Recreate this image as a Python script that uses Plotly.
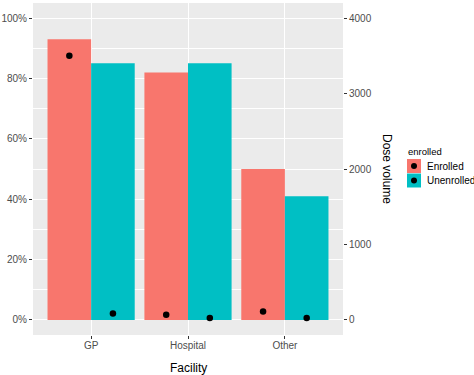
import plotly.graph_objects as go

facilities = ["GP", "Hospital", "Other"]
groups = ["Enrolled", "Unenrolled"]
pct_enrolled = [0.93, 0.82, 0.50]
pct_unenrolled = [0.85, 0.85, 0.41]
dose_enrolled = [3500, 70, 110]
dose_unenrolled = [85, 25, 25]
colors = {"Enrolled": "#F8766D", "Unenrolled": "#00BFC4"}
pct_ticks = [0, 0.2, 0.4, 0.6, 0.8, 1.0]
dose_ticks = [0, 1000, 2000, 3000, 4000]

FONT = "Liberation Sans, Arial, sans-serif"
W, H = 474, 375
L, R, T, B = 33, 131, 3, 40
PW, PH = W - L - R, H - T - B


def px(x):
    return (x - L) / PW


def py(y):
    return (H - B - y) / PH


fig = go.Figure()
for g, vals in zip(groups, [pct_enrolled, pct_unenrolled]):
    fig.add_trace(go.Bar(x=facilities, y=vals, name=g, marker_color=colors[g],
                         marker_line_width=0, offsetgroup=g, showlegend=False))
for g, vals in zip(groups, [dose_enrolled, dose_unenrolled]):
    fig.add_trace(go.Scatter(x=facilities, y=vals, mode="markers", yaxis="y2",
                             orientation="v", offsetgroup=g, showlegend=False,
                             marker=dict(color="black", size=6.5)))

shapes = []
annotations = []
# legend
annotations.append(dict(text="enrolled", x=px(406), y=py(151), xref="paper", yref="paper",
                        xanchor="left", yanchor="middle", showarrow=False,
                        font=dict(family=FONT, size=9.5, color="black")))
for i, g in enumerate(groups):
    y0 = 159 + i * 14.5
    shapes.append(dict(type="rect", xref="paper", yref="paper", x0=px(407), x1=px(421),
                       y0=py(y0), y1=py(y0 + 14), fillcolor=colors[g], line_width=0))
    cx, cy = 414, y0 + 7
    shapes.append(dict(type="circle", xref="paper", yref="paper", x0=px(cx - 3), x1=px(cx + 3),
                       y0=py(cy - 3), y1=py(cy + 3), fillcolor="black", line_width=0))
    annotations.append(dict(text=g, x=px(425), y=py(cy), xref="paper", yref="paper",
                            xanchor="left", yanchor="middle", showarrow=False,
                            font=dict(family=FONT, size=10, color="black")))
annotations.append(dict(text="Dose volume", x=px(387), y=0.5, xref="paper", yref="paper",
                        textangle=90, showarrow=False, xanchor="center", yanchor="middle",
                        font=dict(family=FONT, size=12, color="black")))
annotations.append(dict(text="Facility", x=0.5, y=py(368), xref="paper", yref="paper",
                        showarrow=False, xanchor="center", yanchor="middle",
                        font=dict(family=FONT, size=12, color="black")))

fig.update_layout(
    template="none",
    width=W, height=H, margin=dict(l=L, r=R, t=T, b=B, autoexpand=False),
    paper_bgcolor="white", plot_bgcolor="#EBEBEB",
    barmode="group", bargap=0.1, bargroupgap=0,
    scattermode="group", scattergap=0.1,
    font=dict(family=FONT),
    shapes=shapes, annotations=annotations,
    xaxis=dict(range=[-0.6, 2.6], showgrid=True, gridcolor="white", gridwidth=1.2,
               ticks="outside", ticklen=3, tickcolor="#333333", tickwidth=1,
               tickfont=dict(family=FONT, size=10, color="#4D4D4D"),
               ticklabelstandoff=-2,
               automargin=False, zeroline=False, showline=False),
    yaxis=dict(range=[-0.05, 1.05], tickvals=pct_ticks, tickformat=".0%",
               showgrid=True, gridcolor="white", gridwidth=1.2,
               minor=dict(tick0=0.1, dtick=0.2, showgrid=True, gridcolor="white", gridwidth=0.6),
               ticks="outside", ticklen=3, tickcolor="#333333", tickwidth=1,
               tickfont=dict(family=FONT, size=10, color="#4D4D4D"),
               automargin=False, zeroline=False, showline=False),
    yaxis2=dict(range=[-200, 4200], tickvals=dose_ticks, overlaying="y", side="right",
                showgrid=False, zeroline=False, showline=False, automargin=False,
                ticks="outside", ticklen=3, tickcolor="#333333", tickwidth=1,
                tickfont=dict(family=FONT, size=10, color="#4D4D4D")),
)

fig.write_html("out.html", config={"displayModeBar": False},
               post_script="document.body.style.margin='0';document.body.style.padding='0';")
